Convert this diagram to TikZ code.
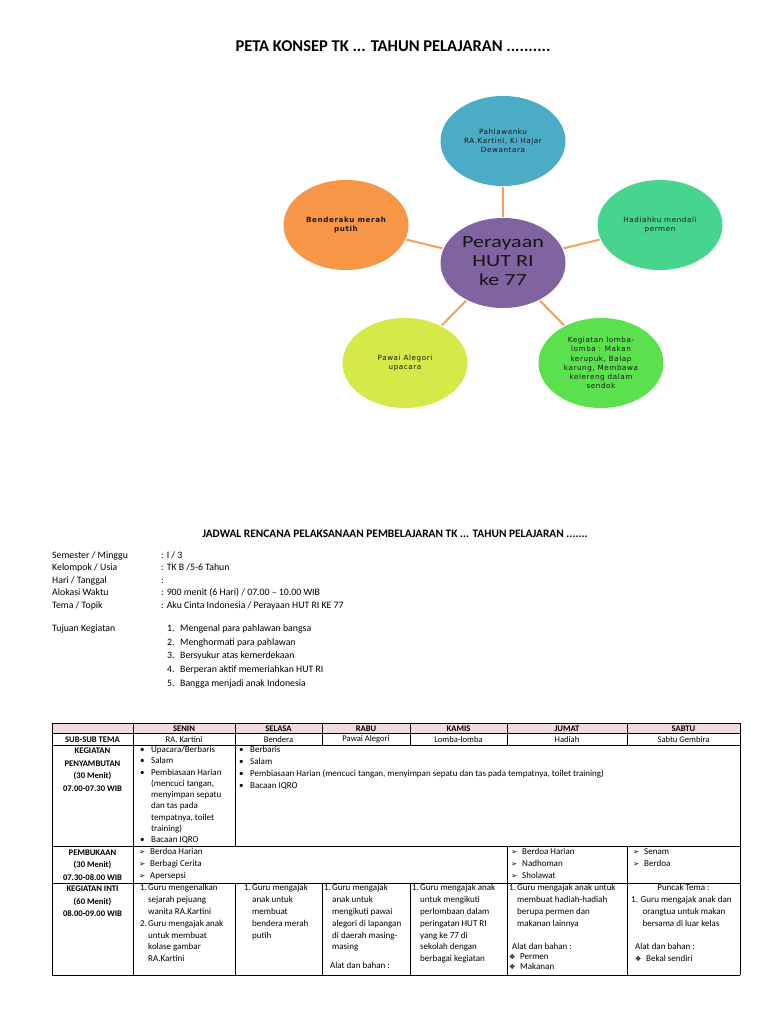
\documentclass[tikz,border=0pt]{standalone}
\usepackage{graphicx}
\usepackage{fontspec}
\setmainfont{Carlito}
\newfontfamily\dejavu{DejaVu Sans}
\newfontfamily\petafont[LetterSpace=8]{DejaVu Sans}
\usetikzlibrary{shapes.geometric,positioning,calc}
\definecolor{biru}{HTML}{4BACC6}
\definecolor{toska}{HTML}{47D48F}
\definecolor{hijau}{HTML}{5BE04E}
\definecolor{kuning}{HTML}{D5EA48}
\definecolor{oranye}{HTML}{F79646}
\definecolor{ungu}{HTML}{8064A2}
\definecolor{garis}{HTML}{F5A05A}
\definecolor{merahmuda}{HTML}{F2DCDB}
\tikzset{
  bulat/.style  = {ellipse, inner sep=0pt, minimum width=125pt, minimum height=90pt, align=center, text=black!90, font=\petafont\fontsize{7.2}{9.3}\selectfont},
  hub/.style    = {draw=garis, line width=2pt, shorten >=1pt, shorten <=1pt},
  isi/.style    = {inner sep=0pt, align=left, anchor=north west, font=\fontsize{9}{11.8}\selectfont},
  kepala/.style = {inner sep=0pt, font=\bfseries\fontsize{8.6}{9}\selectfont},
  label/.style  = {inner sep=0pt, align=center, anchor=north, font=\bfseries\fontsize{8.6}{12.7}\selectfont},
  info/.style   = {inner sep=0pt, anchor=base west, yshift=-3.3pt, font=\fontsize{9.8}{11}\selectfont},
  judul/.style  = {inner sep=0pt, font=\bfseries\fontsize{16.5}{18}\selectfont},
  grid/.style   = {line width=0.8pt}
}
\newcommand{\butir}[2]{\makebox[11pt][l]{#1}#2}
\newcommand{\lanjut}{\hspace*{11pt}}
\newcommand{\nomor}[2]{\makebox[8pt][l]{#1}#2}
\newcommand{\geser}{\hspace*{8pt}}
\newcommand{\panah}{{\dejavu\fontsize{7.5}{7.5}\selectfont ➢}}
\newcommand{\wajik}{{\dejavu\fontsize{7}{7}\selectfont ❖}}

\begin{document}
\begin{tikzpicture}[x=1pt, y=-1pt]  % 1pt = 1px of the page
  \fill[white] (0,0) rectangle (768,1024);
  \useasboundingbox (0,0) rectangle (768,1024);

  %  --  Judul peta konsep
  \node[judul] (judul) at (393,46) {PETA KONSEP TK ... TAHUN PELAJARAN ..........};

  %  --  Peta konsep: pusat dan lima cabang
  \node[bulat, fill=ungu, text=black!92, font=\fontsize{17}{19}\selectfont] (pusat) at (503,263)
    {\scalebox{1.3}[1]{\begin{tabular}{@{}c@{}}Perayaan\\HUT RI\\ke 77\end{tabular}}};
  \node[bulat, fill=biru]   (pahlawan) at (503,141) {Pahlawanku\\RA.Kartini, Ki Hajar\\Dewantara};
  \node[bulat, fill=toska]  (hadiah)   at (660,225) {Hadiahku mendali\\permen};
  \node[bulat, fill=oranye, font=\petafont\bfseries\fontsize{7.2}{9.3}\selectfont] (bendera) at (346,225) {Benderaku merah\\putih};
  \node[bulat, fill=kuning] (pawai)    at (405,363) {Pawai Alegori\\upacara};
  \node[bulat, fill=hijau]  (lomba)    at (601,363) {Kegiatan lomba-\\lomba : Makan\\kerupuk, Balap\\karung, Membawa\\kelereng dalam\\sendok};
  \foreach \c in {pahlawan,hadiah,bendera,pawai,lomba}
    \draw[hub] (pusat) -- (\c);

  %  --  Jadwal: judul dan identitas
  \node[judul, font=\bfseries\fontsize{11.4}{12}\selectfont] (jadwal) at (395,534) {JADWAL RENCANA PELAKSANAAN PEMBELAJARAN TK ... TAHUN PELAJARAN .......};
  \foreach \i/\lbl/\val/\y in {1/{Semester / Minggu}/{: I / 3}/555,
                               2/{Kelompok / Usia}/{: TK B /5-6 Tahun}/567,
                               3/{Hari / Tanggal}/{:}/580,
                               4/{Alokasi Waktu}/{: 900 menit (6 Hari) / 07.00 -- 10.00 WIB}/592,
                               5/{Tema / Topik}/{: Aku Cinta Indonesia / Perayaan HUT RI KE 77}/605}{
    \node[info] (lbl\i) at (52,\y) {\lbl};
    \node[info] (val\i) at (161,\y) {\val};
  }
  \node[info] (tujuan) at (52,628) {Tujuan Kegiatan};
  \foreach \i/\teks/\y in {1/{Mengenal para pahlawan bangsa}/628,
                           2/{Menghormati para pahlawan}/642,
                           3/{Bersyukur atas kemerdekaan}/655,
                           4/{Berperan aktif memeriahkan HUT RI}/669,
                           5/{Bangga menjadi anak Indonesia}/683}{
    \node[info] (no\i) at (167,\y) {\i.};
    \node[info] (tj\i) at (180,\y) {\teks};
  }

  %  --  Tabel: kepala berwarna dan garis
  \fill[merahmuda] (52,723) rectangle (740,733);
  \foreach \y in {723,733,745,846,883,975}
    \draw[grid] (52,\y) -- (740,\y);
  \foreach \x/\ya/\yb in {52/723/975, 133/723/975, 740/723/975,
                          235/723/846, 235/883/975,
                          322/723/745, 322/883/975,
                          410/723/745, 410/883/975,
                          507/723/745, 507/846/975,
                          627/723/745, 627/846/975}
    \draw[grid] (\x,\ya) -- (\x,\yb);

  %  --  Baris hari dan sub-sub tema
  \foreach \hari/\sub/\x in {SENIN/{RA. Kartini}/184, SELASA/Bendera/278.5, RABU/{Pawai Alegori}/366,
                             KAMIS/{Lomba-lomba}/458.5, JUMAT/Hadiah/567, SABTU/{Sabtu Gembira}/683.5}{
    \node[kepala] (h\hari) at (\x,728.3) {\hari};
    \node[kepala, font=\fontsize{8.6}{9}\selectfont] (s\hari) at (\x,739.5) {\sub};
  }
  \node[kepala] (subtema) at (92.5,739.5) {SUB-SUB TEMA};

  %  --  Kegiatan penyambutan
  \node[label] (lpenyambutan) at (92.5,747.5) {KEGIATAN\\PENYAMBUTAN\\(30 Menit)\\07.00-07.30 WIB};
  \node[isi, font=\fontsize{9}{11.3}\selectfont] (penyambutan1) at (140,746) {\butir{\textbullet}{Upacara/Berbaris}\\
    \butir{\textbullet}{Salam}\\
    \butir{\textbullet}{Pembiasaan Harian}\\
    \lanjut(mencuci tangan,\\
    \lanjut menyimpan sepatu\\
    \lanjut dan tas pada\\
    \lanjut tempatnya, toilet\\
    \lanjut training)\\
    \butir{\textbullet}{Bacaan IQRO}};
  \node[isi, font=\fontsize{9}{12}\selectfont] (penyambutan2) at (239,746) {\butir{\textbullet}{Berbaris}\\
    \butir{\textbullet}{Salam}\\
    \butir{\textbullet}{Pembiasaan Harian (mencuci tangan, menyimpan sepatu dan tas pada tempatnya, toilet training)}\\
    \butir{\textbullet}{Bacaan IQRO}};

  %  --  Pembukaan
  \node[label] (lpembukaan) at (92.5,849.5) {PEMBUKAAN\\(30 Menit)\\07.30-08.00 WIB};
  \node[isi, font=\fontsize{9}{12}\selectfont] (pembukaan1) at (139,848) {\butir{\panah}{Berdoa Harian}\\\butir{\panah}{Berbagi Cerita}\\\butir{\panah}{Apersepsi}};
  \node[isi, font=\fontsize{9}{12}\selectfont] (pembukaan2) at (511,848) {\butir{\panah}{Berdoa Harian}\\\butir{\panah}{Nadhoman}\\\butir{\panah}{Sholawat}};
  \node[isi, font=\fontsize{9}{12}\selectfont] (pembukaan3) at (633,848) {\butir{\panah}{Senam}\\\butir{\panah}{Berdoa}};

  %  --  Kegiatan inti
  \node[label] (linti) at (92.5,885.5) {KEGIATAN INTI\\(60 Menit)\\08.00-09.00 WIB};
  \node[isi] (senin) at (140,884.5) {\nomor{1.}{Guru mengenalkan}\\
    \geser sejarah pejuang\\
    \geser wanita RA.Kartini\\
    \nomor{2.}{Guru mengajak anak}\\
    \geser untuk membuat\\
    \geser kolase gambar\\
    \geser RA.Kartini};
  \node[isi] (selasa) at (244,884.5) {\nomor{1.}{Guru mengajak}\\
    \geser anak untuk\\
    \geser membuat\\
    \geser bendera merah\\
    \geser putih};
  \node[isi] (rabu) at (324,884.5) {\nomor{1.}{Guru mengajak}\\
    \geser anak untuk\\
    \geser mengikuti pawai\\
    \geser alegori di lapangan\\
    \geser di daerah masing-\\
    \geser masing\\[7pt]
    \hspace*{6pt}Alat dan bahan :};
  \node[isi] (kamis) at (412,884.5) {\nomor{1.}{Guru mengajak anak}\\
    \geser untuk mengikuti\\
    \geser perlombaan dalam\\
    \geser peringatan HUT RI\\
    \geser yang ke 77 di\\
    \geser sekolah dengan\\
    \geser berbagai kegiatan};
  \node[isi] (jumat) at (509,884.5) {\nomor{1.}{Guru mengajak anak untuk}\\
    \geser membuat hadiah-hadiah\\
    \geser berupa permen dan\\
    \geser makanan lainnya\\[11pt]
    \hspace*{3pt}Alat dan bahan :\\[-1.8pt]
    \butir{\wajik}{Permen}\\[-1.8pt]
    \butir{\wajik}{Makanan}};
  \node[isi, anchor=north, align=center] (puncak) at (683.5,884.5) {Puncak Tema :};
  \node[isi] (sabtu) at (631,896.5) {\nomor{1.}{\,Guru mengajak anak dan}\\
    \geser\, orangtua untuk makan\\
    \geser\, bersama di luar kelas\\[11pt]
    \hspace*{4pt}Alat dan bahan :\\
    \hspace*{4pt}\butir{\wajik}{Bekal sendiri}};
\end{tikzpicture}
\end{document}
